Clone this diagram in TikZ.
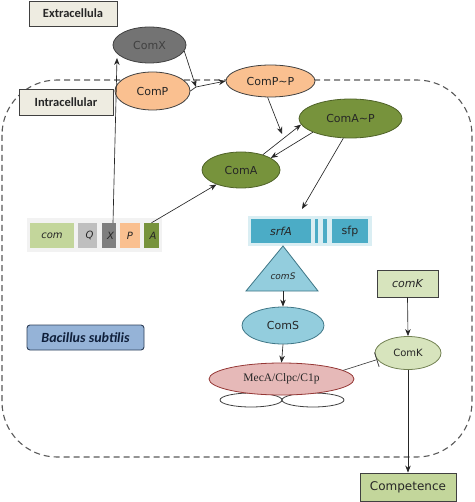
\documentclass[tikz,border=0pt]{standalone}
\usepackage{fontspec}
\setmainfont{Carlito}
\newfontfamily\vfont{DejaVu Sans}
\newfontfamily\tfont{Liberation Serif}
\usetikzlibrary{shapes.geometric}
\usetikzlibrary{calc}
\usetikzlibrary{arrows.meta}
\definecolor{linegray}{HTML}{404040}
\definecolor{textgray}{HTML}{262626}
\definecolor{tagfill}{HTML}{EEECE1}
\definecolor{comxfill}{HTML}{737373}
\definecolor{peach}{HTML}{FAC090}
\definecolor{olive}{HTML}{77933C}
\definecolor{oliveline}{HTML}{4F6228}
\definecolor{lightgreen}{HTML}{C3D69B}
\definecolor{palegreen}{HTML}{D7E4BD}
\definecolor{qgray}{HTML}{BFBFBF}
\definecolor{xgray}{HTML}{7F7F7F}
\definecolor{barbg}{HTML}{F2F2F2}
\definecolor{srfbg}{HTML}{DAEEF3}
\definecolor{teal}{HTML}{4BACC6}
\definecolor{skyblue}{HTML}{93CDDD}
\definecolor{skyline}{HTML}{3E7686}
\definecolor{rose}{HTML}{E6B9B8}
\definecolor{roseline}{HTML}{953735}
\definecolor{bsfill}{HTML}{95B3D7}
\definecolor{bsline}{HTML}{2E3F58}
\definecolor{bstext}{HTML}{0F1F3A}
\definecolor{cellline}{HTML}{595959}
\newcommand{\protfont}{\vfont\fontsize{11}{13}\selectfont}
\newcommand{\tagfont}{\bfseries\fontsize{12.5}{14}\selectfont}
\newcommand{\genefont}{\vfont\itshape\fontsize{10}{12}\selectfont}
\newcommand{\arrowlw}{0.65pt}
\tikzset{
  prot/.style={ellipse, draw=linegray, line width=0.8pt, inner sep=0pt,
    font=\protfont, text=textgray},
  tagbox/.style={rectangle, draw=linegray, fill=tagfill, line width=0.9pt,
    inner sep=0pt, font=\tagfont, text=textgray},
  genebox/.style={rectangle, inner sep=0pt, font=\genefont, text=textgray},
  greenbox/.style={rectangle, draw=linegray, line width=0.9pt, inner sep=0pt,
    text=textgray},
  act/.style={-{Stealth[length=7pt,width=5.5pt]}, line width=\arrowlw,
    draw=black!85},
  link/.style={line width=\arrowlw, draw=black!85},
  inhib/.style={-{Bar[width=15pt,line width=0.8pt]}, line width=\arrowlw,
    draw=linegray},
}
\begin{document}
\begin{tikzpicture}[x=1pt,y=-1pt]
  \useasboundingbox (0,0) rectangle (474,502);
  % cell boundary
  \draw[cellline, line width=1.1pt, dash pattern=on 6pt off 4pt,
    rounded corners=55pt] (2,80) rectangle (472,457);
  % labels
  \node[tagbox, minimum width=88pt, minimum height=25pt] (extra)
    at (73,13.5) {Extracellula};
  \node[tagbox, minimum width=94pt, minimum height=26pt] (intra)
    at (66,102) {Intracellular};
  \node[rectangle, rounded corners=3pt, draw=bsline, fill=bsfill,
    line width=0.9pt, minimum width=117pt, minimum height=25pt,
    inner sep=0pt, text=bstext, font=\bfseries\itshape\fontsize{14}{16}\selectfont]
    (bsub) at (85.5,337.5) {Bacillus subtilis};
  % two-component system
  \node[prot, fill=comxfill, text=linegray,
    minimum width=73pt, minimum height=36pt] (ComX) at (149.5,45) {ComX};
  \node[prot, fill=peach, minimum width=75pt, minimum height=38pt]
    (ComP) at (152.5,91) {ComP};
  \node[prot, fill=peach, minimum width=89pt, minimum height=32pt]
    (ComPP) at (270.5,81) {ComP\textasciitilde P};
  \node[prot, fill=olive, draw=oliveline, minimum width=103pt,
    minimum height=39pt] (ComAP) at (350.5,118.5) {ComA\textasciitilde P};
  \node[prot, fill=olive, draw=oliveline, minimum width=78pt,
    minimum height=36pt] (ComA) at (241,170) {ComA};
  % com operon
  \fill[barbg] (27,218) rectangle (162,252);
  \node[genebox, fill=lightgreen, minimum width=44pt, minimum height=25pt]
    (genecom) at (52,235.5) {com};
  \node[genebox, fill=qgray, minimum width=19pt, minimum height=25pt]
    (geneQ) at (87.5,235.5) {\hspace{4pt}Q};
  \node[genebox, fill=xgray, minimum width=14pt, minimum height=25pt]
    (geneX) at (109,235.5) {\hspace{3pt}X};
  \node[genebox, fill=peach, minimum width=20pt, minimum height=25pt]
    (geneP) at (130,235.5) {P};
  \node[genebox, fill=olive, minimum width=15pt, minimum height=25pt]
    (geneA) at (151.5,235.5) {\hspace{3pt}A};
  % srfA operon
  \fill[srfbg] (248,216) rectangle (372,246);
  \node[genebox, fill=teal, minimum width=60pt, minimum height=24pt,
    font=\vfont\itshape\fontsize{11}{13}\selectfont]
    (srfA) at (281,231) {srfA};
  \node[genebox, fill=teal, minimum width=3.5pt, minimum height=24pt]
    (srfbara) at (316.5,231) {};
  \node[genebox, fill=teal, minimum width=4pt, minimum height=24pt]
    (srfbarb) at (325,231) {};
  \node[genebox, fill=teal, minimum width=36pt, minimum height=24pt,
    font=\vfont\fontsize{11}{13}\selectfont]
    (sfp) at (350,231) {sfp};
  % comS gene inside srfA
  \coordinate (comStop) at (283,246);
  \coordinate (comSleft) at (246,291);
  \coordinate (comSright) at (318,291);
  \coordinate (comSbase) at (283,291);
  \draw[skyline, fill=skyblue, line width=0.8pt]
    (comStop) -- (comSright) -- (comSleft) -- cycle;
  \node[font=\vfont\itshape\fontsize{9}{11}\selectfont, text=textgray]
    (comS) at (283,276) {comS};
  \node[prot, fill=skyblue, draw=skyline, minimum width=82pt,
    minimum height=37pt] (ComS) at (283,325.5) {ComS};
  % adaptor complex
  \node[ellipse, draw=linegray, fill=white, line width=0.8pt,
    minimum width=62pt, minimum height=14pt] (clpl) at (251,400) {};
  \node[ellipse, draw=linegray, fill=white, line width=0.8pt,
    minimum width=62pt, minimum height=14pt] (clpr) at (313,400) {};
  \node[prot, fill=rose, draw=roseline, minimum width=145pt,
    minimum height=32pt, font=\tfont\fontsize{11.5}{13}\selectfont]
    (MecA) at (281.5,379) {MecA/Clpc/C1p};
  % comK
  \node[greenbox, fill=palegreen, minimum width=61pt, minimum height=27pt,
    font=\vfont\itshape\fontsize{11}{13}\selectfont]
    (comK) at (407.5,283.5) {comK};
  \node[prot, fill=palegreen, draw=oliveline!80, minimum width=66pt,
    minimum height=33pt, font=\vfont\fontsize{10}{12}\selectfont]
    (ComK) at (408,353) {ComK};
  \node[greenbox, fill=lightgreen, minimum width=96pt, minimum height=28pt,
    font=\vfont\fontsize{12}{14}\selectfont]
    (comp) at (408,487) {Competence};
  % connectors
  \coordinate (xtip) at (117,58);
  \coordinate (pjoin) at (196,87);
  \coordinate (qjoin) at (282,134);
  \coordinate (srftip) at (302,209);
  \draw[act] ($(geneX.north)+(4,0)$) -- (xtip);
  \draw[act] (geneA.north) -- (ComA);
  \draw[act] (ComX.-10) -- (pjoin);
  \draw[link] (ComP.east) -- (pjoin);
  \draw[act] (pjoin) -- (ComPP.west);
  \draw[act] (ComPP.-100) -- (qjoin);
  \draw[act] (ComA.35) -- (ComAP.187);
  \draw[act] (ComAP.200) -- (ComA.22);
  \draw[act] (ComAP.-110) -- (srftip);
  \draw[act] (comSbase) -- (ComS.north);
  \draw[act] (ComS.south) -- (MecA.north);
  \draw[inhib] (MecA.8) -- (ComK.192);
  \draw[act] (comK.south) -- (ComK.north);
  \draw[act] (ComK.south) -- (comp.north);
\end{tikzpicture}
\end{document}
